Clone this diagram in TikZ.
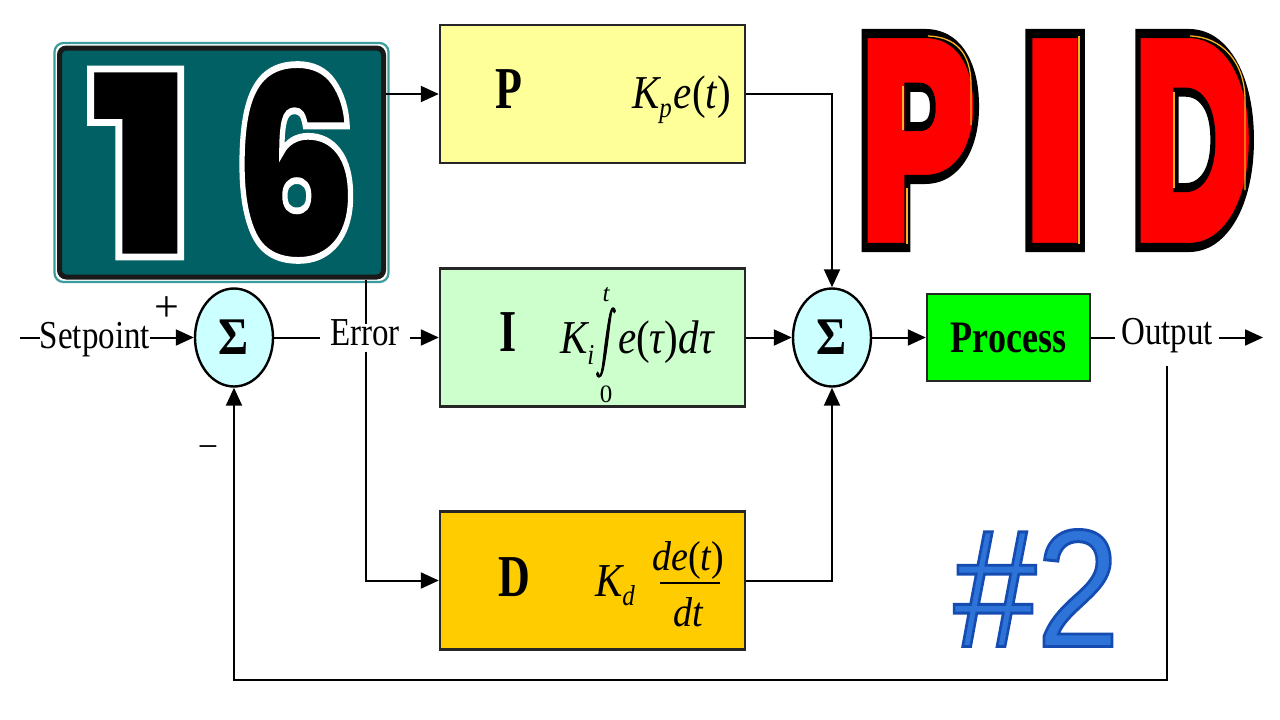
\documentclass[tikz,border=0pt]{standalone}
\usepackage{fontspec}
\usepackage{graphicx}
\usetikzlibrary{arrows.meta,shapes.geometric}
\setmainfont{Liberation Serif}
\newfontfamily\heavy{Poppins Black}
\newfontfamily\sansf{Liberation Sans}
\definecolor{pbox}{HTML}{FFFF99}
\definecolor{ibox}{HTML}{CCFFCC}
\definecolor{dbox}{HTML}{FFCC00}
\definecolor{sumc}{HTML}{CCFFFF}
\definecolor{tealbox}{HTML}{006064}
\definecolor{tealedge}{HTML}{3A9C9C}
\definecolor{hashblue}{HTML}{2E74D8}
\definecolor{rim}{HTML}{FFB020}
\newcommand{\strk}[3]{\special{pdf:code 2 Tr #1 w #2 RG}#3\special{pdf:code 0 Tr 1 w}}
\newcommand{\tx}[2]{\fontsize{#1}{#1}\selectfont #2}
\newcommand{\tall}[2]{\scalebox{1}[#1]{#2}}
\tikzset{
  blockbox/.style={draw=black!85,line width=2.4pt,inner sep=0pt,minimum width=305pt,minimum height=138pt},
  sumnode/.style={ellipse,draw=black,line width=2.4pt,fill=sumc,inner sep=0pt,minimum width=78pt,minimum height=98pt},
  wire/.style={line width=2pt,draw=black},
  arr/.style={wire,-{Triangle[length=18pt,width=16pt]}},
  plain/.style={inner sep=0pt,outer sep=0pt},
  sig/.style={inner sep=0pt,outer sep=0pt,fill=white,font=\fontsize{33}{33}\selectfont},
  rimline/.style={draw=rim,line width=1.3pt}
}
\begin{document}
\begin{tikzpicture}[x=1pt,y=-1pt]
\useasboundingbox (0,0) rectangle (1280,720);
\fill[white] (0,0) rectangle (1280,720);
% 16 badge
\node[draw=black!90,line width=5pt,fill=tealbox,rounded corners=7pt,minimum width=324pt,minimum height=229pt,inner sep=0pt] (badge) at (221.5,162.5) {};
\draw[tealedge,line width=2.2pt,rounded corners=9pt] ([shift={(-2.5,-2.5)}]badge.north west) rectangle ([shift={(2.5,2.5)}]badge.south east);
\node[plain] (dig1) at (141,163) {\resizebox{106pt}{188pt}{\heavy\fontsize{270}{270}\selectfont\strk{7}{1 1 1}{1}}};
\node[plain] (dig6) at (295.5,162.5) {\resizebox{128pt}{194pt}{\heavy\fontsize{270}{270}\selectfont\strk{7}{1 1 1}{6}}};
% PID
\node[plain] (letP) at (917.5,140.5) {\resizebox{125pt}{214pt}{\heavy\fontsize{300}{300}\selectfont\color{red}\strk{9}{0 0 0}{P}}};
\node[plain] (letI) at (1055,140.5) {\resizebox{76pt}{214pt}{\heavy\fontsize{300}{300}\selectfont\color{red}\strk{9}{0 0 0}{I}}};
\node[plain] (letD) at (1193,140.5) {\resizebox{127pt}{214pt}{\heavy\fontsize{300}{300}\selectfont\color{red}\strk{9}{0 0 0}{D}}};
% orange rims on the letters
\draw[rimline] (907,188) -- (907,244);
\draw[rimline] (903,86) -- (903,130);
\draw[rimline] (1079,36) -- (1079,244);
\draw[rimline] (1174,92) -- (1174,188);
\draw[rimline] (928,36) .. controls (955,37) and (971,52) .. (971,85) -- (971,125);
\draw[rimline] (1190,36) .. controls (1222,37) and (1245,62) .. (1245,100) -- (1245,190);
% blocks
\node[blockbox,fill=pbox] (P) at (592.5,94) {};
\node[blockbox,fill=ibox] (I) at (592.5,337.5) {};
\node[blockbox,fill=dbox] (D) at (592.5,580.5) {};
\node[draw=black!85,line width=2.4pt,fill=green,inner sep=0pt,minimum width=163pt,minimum height=87pt] (proc) at (1008.5,337.5) {\tall{1.25}{\tx{36}{\bfseries Process}}};
\node[sumnode] (sum1) at (234,337.5) {\tall{1.15}{\tx{46}{\bfseries Σ}}};
\node[sumnode] (sum2) at (832,337.5) {\tall{1.15}{\tx{46}{\bfseries Σ}}};
% block labels
\node[plain] (lblP) at (508.5,89) {\tall{1.35}{\tx{44}{\bfseries P}}};
\node[plain] (lblI) at (508,332) {\tall{1.35}{\tx{44}{\bfseries I}}};
\node[plain] (lblD) at (514,577) {\tall{1.35}{\tx{44}{\bfseries D}}};
% formulas
\node[plain,anchor=base west] (fP) at (632,108) {\tall{1.15}{\tx{41}{\itshape K\raisebox{-8pt}{\tx{25}{p}}\kern2pt e{\upshape(}t{\upshape)}}}};
\node[plain,anchor=base west] (fI1) at (560,353) {\tall{1.15}{\tx{41}{\itshape K\raisebox{-10pt}{\tx{25}{i}}}}};
\node[plain] (fIint) at (606,342.5) {\scalebox{2.1}[3.1]{\strk{0.5}{0 0 0}{$\displaystyle\int$}}};
\node[plain,anchor=base west] (fI2) at (618,353) {\tall{1.15}{\tx{41}{\itshape e{\upshape(}τ{\upshape)}d\kern1ptτ}}};
\node[plain] (fIt) at (606,295) {\tx{25}{\itshape t}};
\node[plain] (fI0) at (606,394) {\tx{25}{0}};
\node[plain,anchor=base west] (fD1) at (595,596) {\tall{1.15}{\tx{41}{\itshape K\raisebox{-8pt}{\tx{25}{d}}}}};
\node[plain] (fDn) at (688,560) {\tall{1.1}{\tx{38}{\itshape de{\upshape(}t{\upshape)}}}};
\node[plain] (fDd) at (688,612) {\tall{1.1}{\tx{38}{\itshape dt}}};
\coordinate (barL) at (660,583);
\coordinate (barR) at (720,583);
\draw[line width=1.6pt] (barL) -- (barR);
% signal labels
\node[sig,text height=22pt,text depth=6pt] (setp) at (95,340) {\tall{1.2}{Setpoint}};
\node[sig,text height=22pt,text depth=6pt,inner xsep=10pt,inner ysep=0pt] (err) at (365,337.5) {\tall{1.2}{Error}};
\node[sig,text height=22pt,text depth=22pt,inner xsep=6pt] (out) at (1167,344) {\tall{1.2}{Output}};
\node[plain] (plus) at (167,309) {\tx{44}{+}};
\node[plain] (minus) at (208,452) {\tx{36}{−}};
% free ends
\coordinate (inL) at (20,337.5);
\coordinate (outR) at (1263,337.5);
\coordinate (tap) at (366,338);
\coordinate (fbk) at (1167,680);
% connectors
\draw[wire] (inL) -- (setp.west |- inL);
\draw[arr] (setp.east |- inL) -- (sum1.west);
\draw[wire] (sum1.east) -- (err.west);
\draw[arr] (err.east |- I.west) -- (I.west);
\draw[wire] (tap |- badge.south) -- (tap |- err.north);
\draw[arr] (tap |- err.south) |- (D.west);
\draw[arr] (badge.east |- P.west) -- (P.west);
\draw[arr] (P.east) -| (sum2.north);
\draw[arr] (I.east) -- (sum2.west);
\draw[arr] (D.east) -| (sum2.south);
\draw[arr] (sum2.east) -- (proc.west);
\draw[wire] (proc.east) -- (out.west |- proc.east);
\draw[arr] (out.east |- proc.east) -- (outR);
\draw[arr] (out.south) -- (fbk) -| (sum1.south);
% #2
\node[plain] (hash) at (1036.5,588) {\resizebox{166pt}{117pt}{\sansf\fontsize{170}{170}\selectfont\color{hashblue}\strk{3}{0.08 0.3 0.7}{\#2}}};
\end{tikzpicture}
\end{document}
